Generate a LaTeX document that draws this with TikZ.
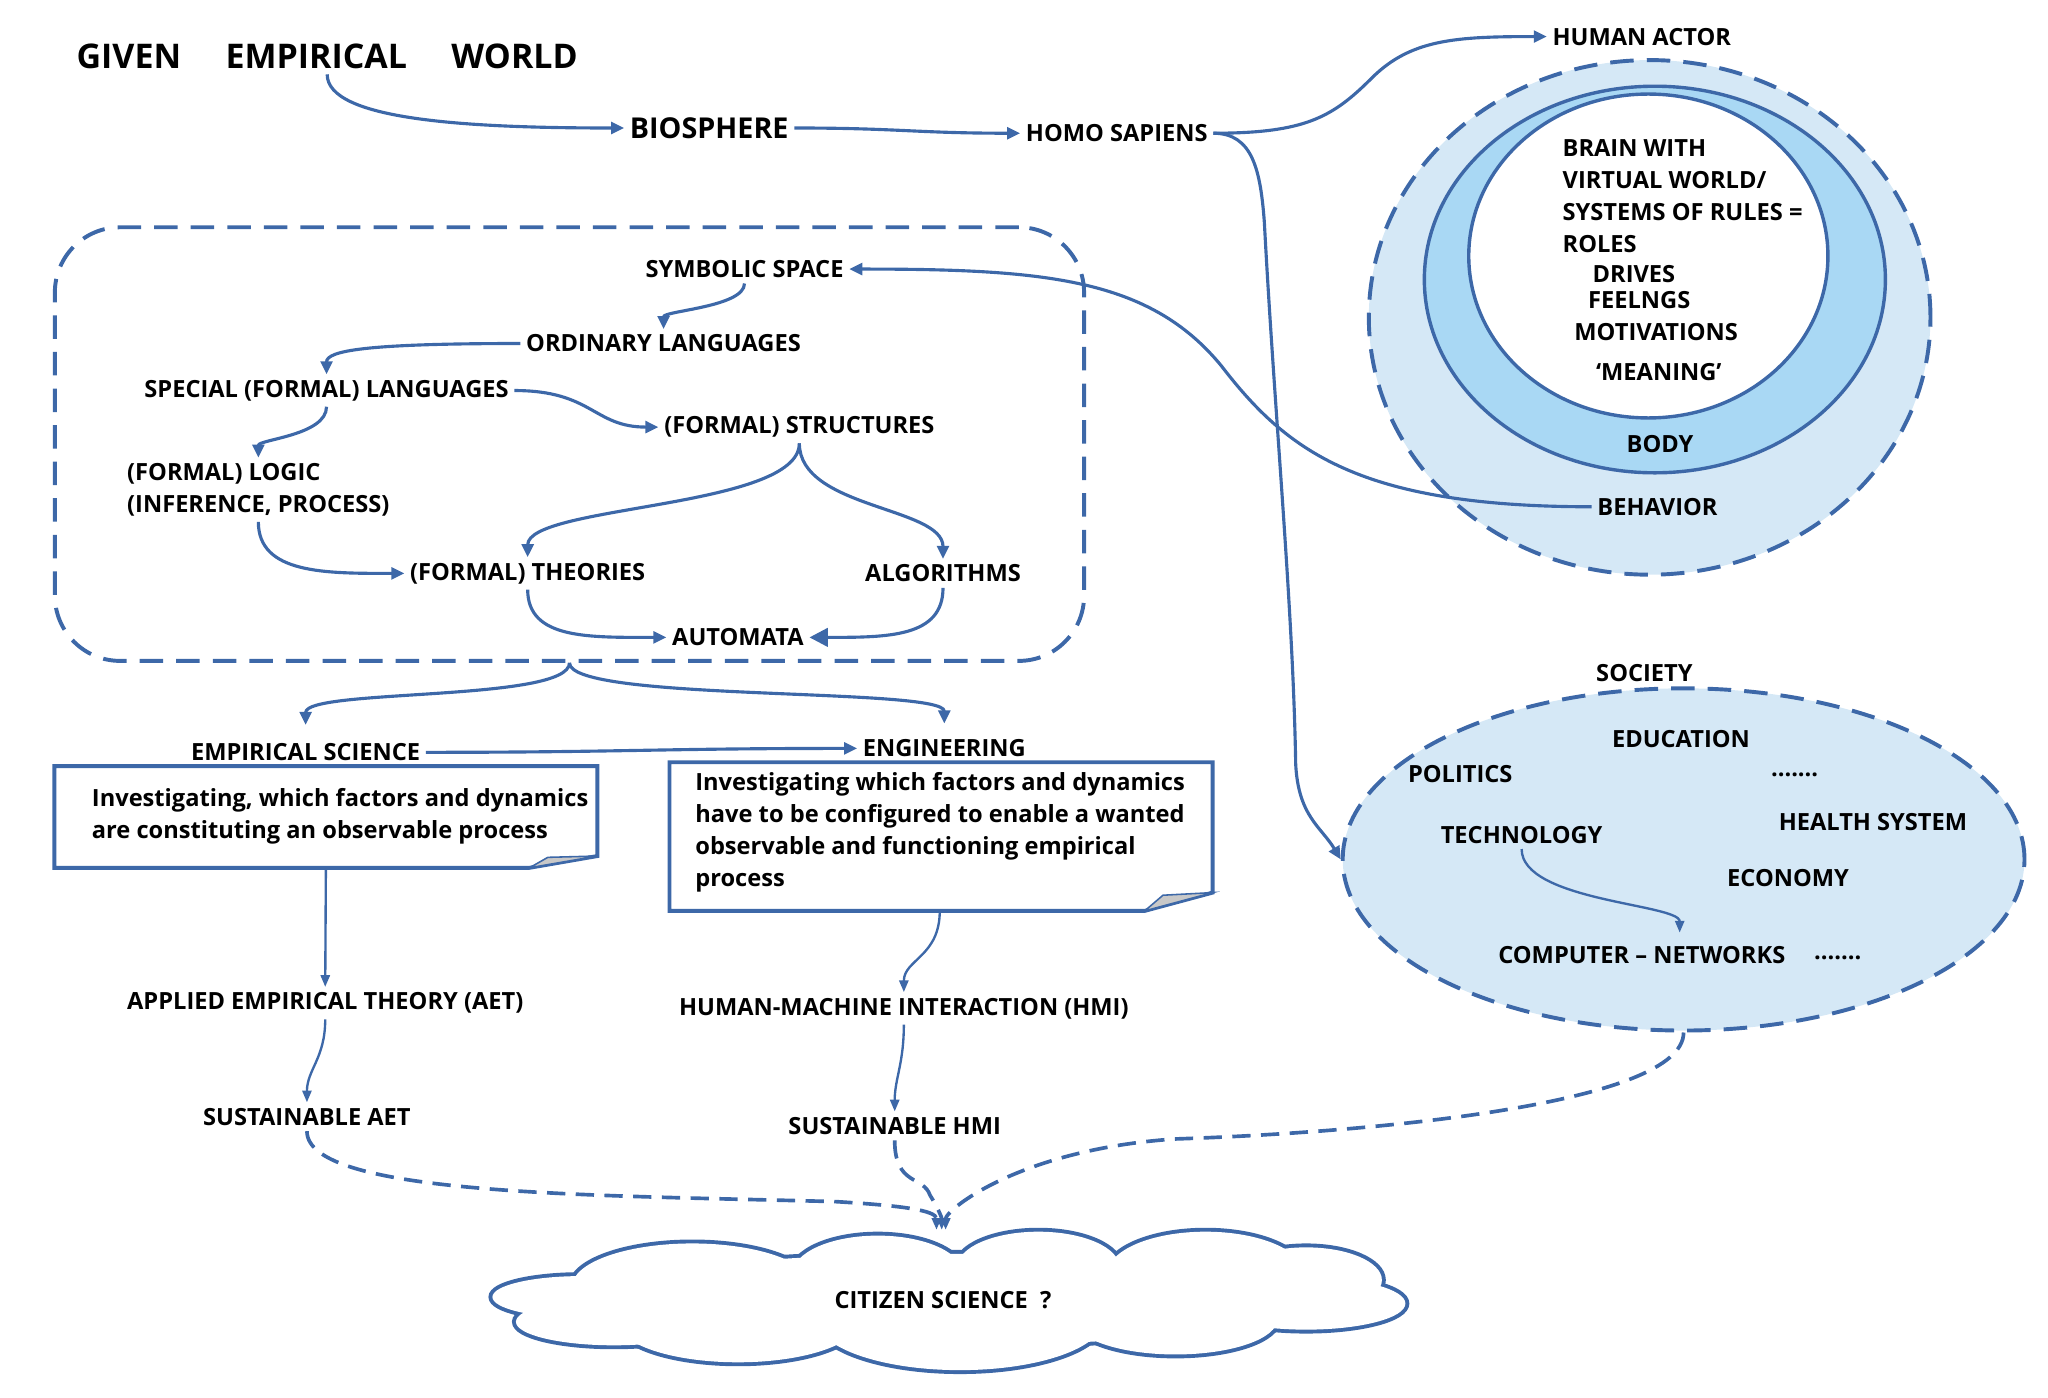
\documentclass[tikz,border=0pt]{standalone}
\usepackage{fontspec}
\setmainfont{Open Sans}
\usetikzlibrary{arrows.meta,shapes.geometric,calc}
\definecolor{ln}{RGB}{61,104,168}
\definecolor{lfill}{RGB}{213,232,246}
\definecolor{mfill}{RGB}{169,216,244}
\definecolor{foldc}{RGB}{200,200,200}
\begin{document}
\begin{tikzpicture}[x=0.5pt,y=-0.5pt,
 lab/.style={font=\fontsize{9.05}{12.2}\selectfont\bfseries, inner sep=2pt},
 big/.style={font=\fontsize{11}{13}\selectfont\bfseries, inner sep=2pt},
 title/.style={font=\fontsize{13}{15}\selectfont\bfseries, inner sep=2pt},
 notetxt/.style={font=\fontsize{9.05}{12.3}\selectfont\bfseries, align=left, inner sep=0pt},
 arr/.style={draw=ln, line width=1.2pt, -{Triangle[length=5pt,width=4.5pt]}},
 bigarr/.style={draw=ln, line width=1.2pt, -{Triangle[length=7pt,width=7pt]}},
 tarr/.style={draw=ln, line width=0.9pt, -{Triangle[length=4.5pt,width=3.5pt]}},
 darr/.style={draw=ln, line width=1.4pt, dash pattern=on 7pt off 4pt, -{Triangle[length=4.5pt,width=3.5pt]}},
 dbox/.style={draw=ln, line width=1.5pt, dash pattern=on 9pt off 5pt},
 notebox/.style={draw=ln, line width=1.5pt, fill=white, line join=miter},
]
\useasboundingbox (0,0) rectangle (1568,1069.6);

% ---------- top ----------
\node[title] (gew) at (250.5,43) {GIVEN\hspace{17pt}EMPIRICAL\hspace{17pt}WORLD};
\node[big] (bio) at (543,98) {BIOSPHERE};
\node[lab] (hs) at (855,102) {HOMO SAPIENS};
\node[lab] (hact) at (1257,28) {HUMAN ACTOR};

\draw[arr] (gew.south) .. controls +(0,35) and +(-120,0) .. (bio.west);
\draw[arr] (bio.east) .. controls +(80,0) and +(-80,0) .. (hs.west);
\draw[arr] (hs.east) .. controls +(70,0) and +(-30,30) .. (1050,60) .. controls +(30,-30) and +(-70,0) .. (hact.west);

% ---------- human actor ellipses ----------
\node[ellipse, dbox, fill=lfill, minimum width=215pt, minimum height=197pt, inner sep=0] (ha) at (1263,243) {};
\node[ellipse, draw=ln, line width=1.3pt, fill=mfill, minimum width=176.5pt, minimum height=148pt, inner sep=0] (bodyell) at (1267,214) {};
\node[ellipse, draw=ln, line width=1.3pt, fill=white, minimum width=137.5pt, minimum height=124pt, inner sep=0] (brainell) at (1262,196) {};
\node[lab, align=left, anchor=west] (brain) at (1192,150) {BRAIN WITH\\VIRTUAL WORLD/\\SYSTEMS OF RULES =\\ROLES};
\node[lab] (drives) at (1251,210) {DRIVES};
\node[lab] (feel) at (1255,230) {FEELNGS};
\node[lab] (motiv) at (1268,254) {MOTIVATIONS};
\node[lab] (mean) at (1270,285) {‘MEANING’};
\node[lab] (body) at (1271,340) {BODY};
\node[lab] (beh) at (1269,388) {BEHAVIOR};

% ---------- symbolic space box ----------
\node[dbox, rounded corners=25pt, minimum width=394pt, minimum height=166pt, inner sep=0] (symbox) at (436,340) {};
\node[lab] (ss) at (570,206) {SYMBOLIC SPACE};
\node[lab] (ol) at (508,263) {ORDINARY LANGUAGES};
\node[lab] (sfl) at (250,299) {SPECIAL (FORMAL) LANGUAGES};
\node[lab] (fs) at (612,327) {(FORMAL) STRUCTURES};
\node[lab, align=left, anchor=west] (fl) at (93,375) {(FORMAL) LOGIC\\(INFERENCE, PROCESS)};
\node[lab] (ft) at (404,439) {(FORMAL) THEORIES};
\node[lab] (alg) at (722,439) {ALGORITHMS};
\node[lab] (aut) at (565,488) {AUTOMATA};

\draw[arr] (ss.south) .. controls +(0,18) and +(0,-14) .. (ol.north);
\draw[arr] (ol.west) .. controls +(-120,0) and +(0,-18) .. (sfl.north);
\draw[arr] (sfl.east) .. controls +(60,0) and +(-50,0) .. (fs.west);
\draw[arr] (sfl.south) .. controls +(0,22) and +(0,-14) .. (fl.north);
\draw[arr] (fl.south) .. controls +(0,40) and +(-60,0) .. (ft.west);
\draw[arr] (fs.south) .. controls +(0,50) and +(0,-40) .. (ft.north);
\draw[arr] (fs.south) .. controls +(0,50) and +(0,-40) .. (alg.north);
\draw[arr] (ft.south) .. controls +(0,38) and +(-60,0) .. (aut.west);
\draw[bigarr] (alg.south) .. controls +(0,38) and +(60,0) .. (aut.east);

\draw[arr] (beh.west) .. controls (1040,388) and (985,345) .. (935,280) .. controls (880,213) and (800,206) .. (ss.east);

% ---------- science / engineering ----------
\node[lab] (es) at (234,576) {EMPIRICAL SCIENCE};
\node[lab] (eng) at (723,573) {ENGINEERING};
\draw[arr] (symbox.south) .. controls +(0,30) and +(0,-28) .. ($(es.north)+(0,-10)$);
\draw[arr] (symbox.south) .. controls +(0,30) and +(0,-28) .. ($(eng.north)+(0,-8)$);
\draw[arr] (es.east) .. controls +(150,0) and +(-150,0) .. (eng.west);

\node[minimum width=207.5pt, minimum height=38.5pt, inner sep=0] (note1) at (249.5,625.5) {};
\draw[notebox] (note1.north west) -- (note1.north east) -- ($(note1.south east)+(0,-9)$) -- ($(note1.south east)+(-52,0)$) -- (note1.south west) -- cycle;
\fill[foldc, draw=ln, line width=0.6pt] ($(note1.south east)+(0,-9)$) -- ($(note1.south east)+(-52,0)$) -- ($(note1.south east)+(-38,-8)$) -- cycle;
\node[notetxt, anchor=west] (n1t) at (70,625) {Investigating, which factors and dynamics\\are constituting an observable process};

\node[minimum width=207.5pt, minimum height=56.5pt, inner sep=0] (note2) at (720.5,640.5) {};
\draw[notebox] (note2.north west) -- (note2.north east) -- ($(note2.south east)+(0,-14)$) -- ($(note2.south east)+(-52,0)$) -- (note2.south west) -- cycle;
\fill[foldc, draw=ln, line width=0.6pt] ($(note2.south east)+(0,-14)$) -- ($(note2.south east)+(-52,0)$) -- ($(note2.south east)+(-38,-12)$) -- cycle;
\node[notetxt, anchor=west] (n2t) at (532,637) {Investigating which factors and dynamics\\have to be configured to enable a wanted\\observable and functioning empirical\\process};

\node[lab] (aet) at (249,768) {APPLIED EMPIRICAL THEORY (AET)};
\node[lab] (saet) at (235,855) {SUSTAINABLE AET};
\node[lab] (hmi) at (692,772) {HUMAN-MACHINE INTERACTION (HMI)};
\node[lab] (shmi) at (685,862) {SUSTAINABLE HMI};

\draw[tarr] (note1.south) -- (aet.north);
\draw[tarr] (aet.south) .. controls +(0,30) and +(0,-25) .. (saet.north);
\draw[tarr] ($(note2.south)+(-1,0)$) .. controls +(0,35) and +(0,-25) .. (hmi.north);
\draw[tarr] (hmi.south) .. controls +(0,30) and +(0,-25) .. (shmi.north);

% ---------- society ----------
\node[ellipse, dbox, fill=lfill, minimum width=261pt, minimum height=131pt, inner sep=0] (soc) at (1289,658) {};
\node[lab] (socl) at (1259,515) {SOCIETY};
\node[lab] (edu) at (1287,566) {EDUCATION};
\node[lab] (pol) at (1118,593) {POLITICS};
\node[lab] (dots1) at (1374,593) {.......};
\node[lab] (health) at (1434,629) {HEALTH SYSTEM};
\node[lab] (tech) at (1165,639) {TECHNOLOGY};
\node[lab] (econ) at (1369,672) {ECONOMY};
\node[lab] (cn) at (1257,731) {COMPUTER – NETWORKS};
\node[lab] (dots2) at (1407,733) {.......};
\coordinate (cnin) at (1286,714);
\draw[tarr] (tech.south) .. controls +(0,40) and +(0,-22) .. (cnin);

\draw[arr] (hs.east) .. controls +(30,0) and +(-3,-40) .. (968,170) .. controls +(8,150) and +(-2,-120) .. (992,585) .. controls +(2,40) and +(-15,-25) .. (soc.west);

% ---------- citizen science cloud ----------
\def\puffs{(445,993)/68/16, (530,985)/92/33, (672,975)/65/29, (795,970)/62/27, (923,975)/75/32, (1000,980)/58/25, (1000,998)/76/20, (900,1010)/78/27, (735,1010)/110/39, (565,1012)/92/31, (470,1012)/75/18, (726,995)/280/35}
\foreach \c/\rx/\ry in \puffs { \draw[ln, line width=3pt] \c ellipse [x radius=\rx, y radius=\ry]; }
\foreach \c/\rx/\ry in \puffs { \fill[white] \c ellipse [x radius=\rx, y radius=\ry]; }
\node[minimum width=348pt, minimum height=53pt, inner sep=0, font=\fontsize{9.05}{11}\selectfont\bfseries] (cloud) at (722,995) {CITIZEN SCIENCE\ \ ?};

\draw[darr] (saet.south) .. controls +(0,50) and +(-180,-5) .. (640,920) .. controls +(50,3) and +(0,-15) .. ($(cloud.north)+(-5,0)$);
\draw[darr] (shmi.south) .. controls +(0,35) and +(-5,-15) .. (712,915) .. controls +(5,8) and +(0,-10) .. ($(cloud.north)+(-1,0)$);
\draw[darr] (soc.south) .. controls +(0,55) and +(150,-5) .. (900,872) .. controls +(-120,8) and +(0,-15) .. ($(cloud.north)+(2,0)$);

\end{tikzpicture}
\end{document}
